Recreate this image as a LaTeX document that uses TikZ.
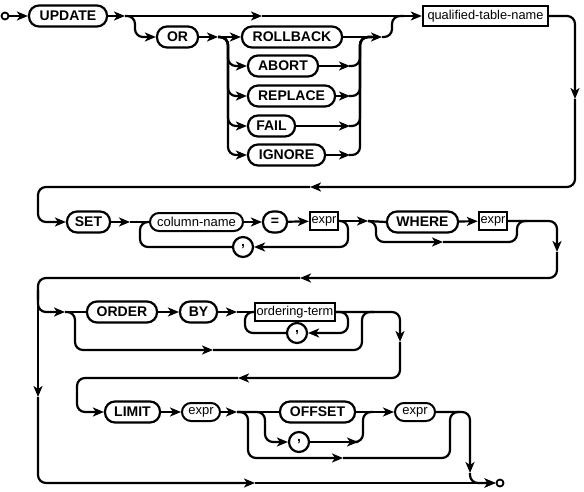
\documentclass[tikz,border=0pt]{standalone}
\usepackage{fontspec}
\newfontfamily\rrfont{Liberation Sans}
\usetikzlibrary{arrows.meta}
\tikzset{
  rr/.style={line width=2.2pt, rounded corners=8pt},
  arr/.style={rr, -{Stealth[length=11pt,width=9pt,inset=3pt]}},
  term/.style={draw, line width=2.2pt, rounded corners=10pt, minimum height=21pt,
    inner xsep=0pt, inner ysep=0pt, font=\rrfont\bfseries\fontsize{14}{15}\selectfont},
  pill/.style={draw, line width=2pt, rounded corners=9pt, minimum height=18pt,
    inner xsep=0pt, inner ysep=0pt, font=\rrfont\fontsize{13}{14}\selectfont},
  nterm/.style={draw, line width=2.4pt, minimum height=18pt,
    inner xsep=0pt, inner ysep=0pt, font=\rrfont\fontsize{12.8}{14}\selectfont},
  endpt/.style={circle, draw, line width=1.8pt, fill=white, minimum size=7pt, inner sep=0pt},
}
\begin{document}
\begin{tikzpicture}[x=1pt,y=-1pt]
\useasboundingbox[fill=white] (0,0) rectangle (584,492);
% ---- nodes
\node[endpt] (start) at (5,16) {};
\node[term, minimum width=78pt] (upd) at (68,16) {UPDATE};
\node[term, minimum width=41pt] (or) at (177.5,37) {OR};
\node[term, minimum width=100pt] (rb) at (292,37) {ROLLBACK};
\node[term, minimum width=70pt] (ab) at (283,66) {ABORT};
\node[term, minimum width=87pt] (rp) at (291.5,96) {REPLACE};
\node[term, minimum width=47pt] (fl) at (271.5,126) {FAIL};
\node[term, minimum width=77pt] (ig) at (286.5,155) {IGNORE};
\node[nterm, minimum width=125pt, minimum height=20pt] (qtn) at (485.5,16) {qualified-table-name};
% row 2
\node[term, minimum width=43pt] (set) at (88.5,222) {SET};
\node[pill, minimum width=93pt] (col) at (196.5,222) {column-name};
\node[term, minimum width=24pt] (eq) at (275,222) {=};
\node[nterm, minimum width=28pt] (ea) at (324,221) {expr};
\node[term, minimum width=20pt, minimum height=20pt] (ca) at (243,247) {,};
\node[term, minimum width=71pt] (wh) at (422.5,222) {WHERE};
\node[nterm, minimum width=28pt] (eb) at (493,221) {expr};
% row 3
\node[term, minimum width=70pt] (ord) at (122,312) {ORDER};
\node[term, minimum width=37pt] (by) at (198.5,312) {BY};
\node[nterm, minimum width=80pt] (ot) at (295,312) {ordering-term};
\node[term, minimum width=20pt, minimum height=20pt] (cb) at (297,333) {,};
% row 4
\node[term, minimum width=55pt] (lim) at (132.5,412) {LIMIT};
\node[pill, minimum width=38pt] (ec) at (201,412) {expr};
\node[term, minimum width=75pt] (off) at (317.5,412) {OFFSET};
\node[term, minimum width=20pt, minimum height=20pt] (cc) at (299,442) {,};
\node[pill, minimum width=40pt] (ed) at (415,412) {expr};
\node[endpt] (fin) at (500,483) {};
% junction coordinates
\coordinate (j1) at (125,16);
\coordinate (m1) at (262,16);
\coordinate (j2) at (218,37);
\coordinate (r1) at (382,37);
\coordinate (d1) at (575,99);
\coordinate (l1) at (310,187);
\coordinate (j3) at (130,222);
\coordinate (j4) at (368,221);
\coordinate (b1) at (443,242);
\coordinate (d2) at (557,252);
\coordinate (l2) at (300,278);
\coordinate (j5) at (65,312);
\coordinate (b2) at (213,350);
\coordinate (j6) at (237,312);
\coordinate (d3) at (400,342);
\coordinate (l3) at (238,378);
\coordinate (dl) at (38,397);
\coordinate (bb) at (255,483);
\coordinate (j7) at (237,412);
\coordinate (b3) at (343,458);
\coordinate (c3) at (358,442);
\coordinate (d4) at (470,473);
% ---- row 1 connectors
\draw[arr] (start) -- (upd);
\draw[arr] (upd) -- (j1);
\draw[arr] (j1) -- (m1);
\draw[arr] (m1) -- (qtn.west);
\draw[arr] (j1) -- ++(10,0) -- ++(0,21) -- (or.west);
\draw[arr] (or) -- (j2);
\draw[arr] (j2) -- (rb.west);
\draw[arr] (j2) -- ++(10,0) |- (ab.west);
\draw[arr] (j2) -- ++(10,0) |- (rp.west);
\draw[arr] (j2) -- ++(10,0) |- (fl.west);
\draw[arr] (j2) -- ++(10,0) |- (ig.west);
\draw[arr] (rb.east) -- (r1);
\draw[arr] (ab.east) -- (350,66);
\draw[arr] (rp.east) -- (350,96);
\draw[arr] (fl.east) -- (350,126);
\draw[arr] (ig.east) -- (350,155);
\foreach \yy in {66,96,126,155} \draw[rr] (349,\yy) -- (360,\yy) -- (360,37) -- (372,37);
\draw[rr] (r1) -- (392,37) -- (392,16) -- (404,16);
\draw[arr] (qtn.east) -- (575,16) -- (d1);
\draw[arr] (d1) -- (575,187) -- (l1);
\draw[arr] (l1) -- (38,187) -- (38,222) -- (set.west);
% ---- row 2
\draw[arr] (set) -- (j3);
\draw[rr] (j3) -- (col.west);
\draw[arr] (col) -- (eq);
\draw[arr] (eq) -- (ea);
\draw[arr] (ea.east) -- (348,221) -- (348,247) -- (ca.east);
\draw[rr] (ca.west) -- (140,247) -- (140,222) -- (150,222);
\draw[arr] (ea.east) -- (j4);
\draw[rr] (j4) -- (wh.west);
\draw[arr] (wh) -- (eb);
\draw[arr] (j4) -- ++(8,0) |- (b1);
\draw[rr] (b1) -- (517,242) -- (517,221) -- (527,221);
\draw[arr] (eb.east) -- (557,221) -- (d2);
\draw[arr] (d2) -- (557,278) -- (l2);
\draw[rr] (l2) -- (38,278) -- (38,300);
% ---- row 3
\draw[arr] (38,290) -- (38,312) -- (j5);
\draw[rr] (j5) -- (ord.west);
\draw[arr] (ord) -- (by);
\draw[arr] (by) -- (j6);
\draw[rr] (j6) -- (ot.west);
\draw[arr] (j5) -- ++(10,0) |- (b2);
\draw[rr] (b2) -- (362,350) -- (362,312) -- (374,312);
\draw[arr] (ot.east) -- (348,312) -- (348,333) -- (cb.east);
\draw[rr] (cb.west) -- (245,333) -- (245,312) -- (255,312);
\draw[arr] (ot.east) -- (400,312) -- (d3);
\draw[arr] (d3) -- (400,378) -- (l3);
\draw[arr] (l3) -- (77,378) -- (77,412) -- (lim.west);
% left bypass
\draw[arr] (38,290) -- (dl);
\draw[arr] (dl) -- (38,483) -- (bb);
% ---- row 4
\draw[arr] (lim) -- (ec);
\draw[arr] (ec) -- (j7);
\draw[rr] (j7) -- (off.west);
\draw[arr] (j7) -- (265,412) -- (265,442) -- (cc.west);
\draw[arr] (cc.east) -- (c3);
\draw[rr] (c3) -- (363,442) -- (363,412) -- (373,412);
\draw[arr] (j7) -- (248,412) -- (248,458) -- (b3);
\draw[rr] (b3) -- (450,458) -- (450,412) -- (460,412);
\draw[arr] (off) -- (ed);
\draw[arr] (ed.east) -- (470,412) -- (d4);
\draw[arr] (d4) -- (470,483) -- (fin);
\draw[arr] (bb) -- (fin);
\end{tikzpicture}
\end{document}
